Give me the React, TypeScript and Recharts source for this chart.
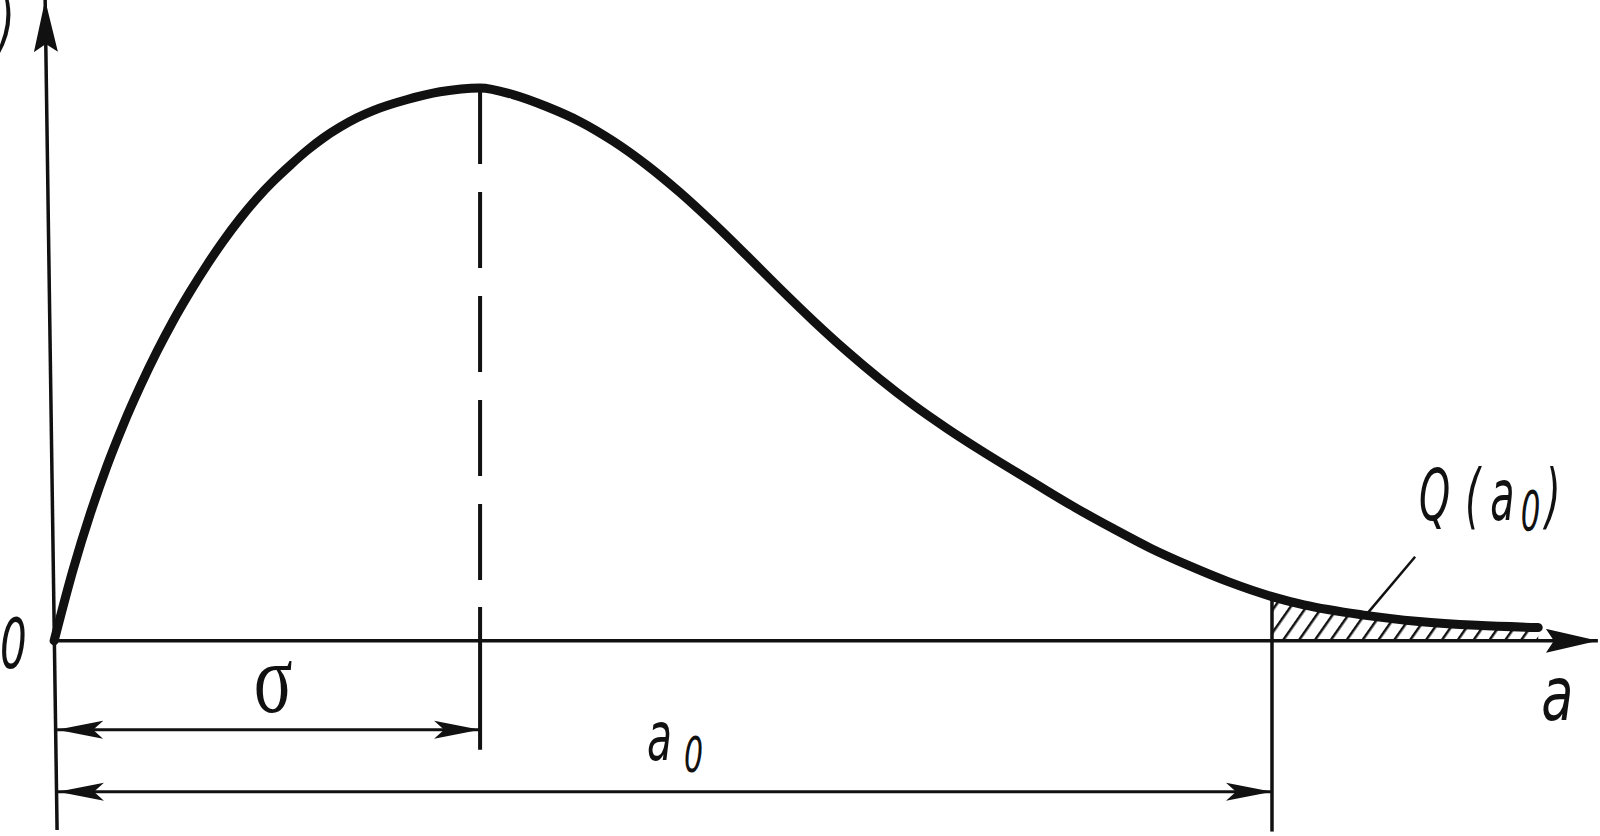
import { ComposedChart, Line, Area, XAxis, YAxis, ReferenceLine, ReferenceDot } from 'recharts';

// abscissa in units of sigma, density normalised to the peak
const aValues = [
  0, 0.045, 0.085, 0.124, 0.162, 0.202, 0.242, 0.279, 0.319, 0.359,
  0.397, 0.437, 0.477, 0.514, 0.554, 0.594, 0.631, 0.671, 0.711, 0.749,
  0.829, 0.906, 1.0, 1.077, 1.157, 1.235, 1.312, 1.392, 1.469,
  1.547, 1.627, 1.704, 1.782, 1.862, 1.939, 2.016, 2.096, 2.174, 2.308,
  2.397, 2.486, 2.575, 2.667, 2.756, 2.859, 2.934, 3.07, 3.204, 3.34, 3.484,
];
const densityValues = [
  0, 0.13, 0.23, 0.316, 0.39, 0.46, 0.524, 0.578, 0.631, 0.68,
  0.723, 0.764, 0.801, 0.831, 0.86, 0.887, 0.909, 0.929, 0.946, 0.959,
  0.979, 0.993, 1.0, 0.988, 0.966, 0.939, 0.904, 0.86, 0.811,
  0.756, 0.696, 0.637, 0.579, 0.523, 0.473, 0.427, 0.384, 0.345, 0.282,
  0.241, 0.203, 0.167, 0.135, 0.107, 0.08, 0.065, 0.047, 0.035, 0.028, 0.024,
];

const SIGMA = 1;
const A0 = 2.859;
const A0_DENSITY = 0.08;

const data = aValues.map((a, i) => ({
  a,
  w: densityValues[i],
  tail: a >= A0 ? densityValues[i] : null,
}));

const INK = '#111';
const FONT = '"DejaVu Sans", sans-serif';

// line with optional arrowheads
const arrowShape = (start: string | null, end: string | null, width: number, dash?: string) => (p: any) => (
  <line
    x1={p.x1}
    y1={p.y1}
    x2={p.x2}
    y2={p.y2}
    stroke={INK}
    strokeWidth={width}
    strokeDasharray={dash}
    markerStart={start ? `url(#${start})` : undefined}
    markerEnd={end ? `url(#${end})` : undefined}
  />
);

type Glyph = { t: string; dx?: number; dy?: number; size?: number };

const textShape =
  (glyphs: Glyph[], size: number, sx: number, opts: { anchor?: string; family?: string; italic?: boolean } = {}) =>
  (p: any) => (
    <text
      transform={`translate(${p.cx},${p.cy}) scale(${sx},1)`}
      fontSize={size}
      fontFamily={opts.family ?? FONT}
      fontStyle={opts.italic === false ? 'normal' : 'italic'}
      textAnchor={opts.anchor ?? 'start'}
      fill={INK}
    >
      {glyphs.map((g, i) => (
        <tspan key={i} dx={g.dx} dy={g.dy} fontSize={g.size}>
          {g.t}
        </tspan>
      ))}
    </text>
  );

export default function App() {
  return (
    <div style={{ position: 'absolute', left: 0, top: 0, width: 1600, height: 836, background: '#fff' }}>
      <ComposedChart width={1600} height={836} data={data} margin={{ top: 0, right: 0, bottom: 0, left: 0 }}>
        <defs>
          <marker id="head" viewBox="0 0 46 20" refX="46" refY="10" markerWidth="46" markerHeight="20"
            markerUnits="userSpaceOnUse" orient="auto-start-reverse">
            <path d="M0,1 L46,10 L0,19 L10,10 Z" fill={INK} />
          </marker>
          <marker id="bigHead" viewBox="0 0 52 24" refX="52" refY="12" markerWidth="52" markerHeight="24"
            markerUnits="userSpaceOnUse" orient="auto-start-reverse">
            <path d="M0,0 L52,12 L0,24 L8,12 Z" fill={INK} />
          </marker>
          <pattern id="hatch" patternUnits="userSpaceOnUse" width="13" height="13" patternTransform="rotate(35)">
            <line x1="0" y1="0" x2="0" y2="13" stroke={INK} strokeWidth="5" />
          </pattern>
        </defs>

        <XAxis type="number" dataKey="a" domain={[-0.127, 3.629]} allowDataOverflow hide />
        <YAxis type="number" domain={[-0.353, 1.159]} allowDataOverflow hide />

        <Area dataKey="tail" type="monotone" stroke="none" fill="url(#hatch)" fillOpacity={1}
          baseValue={0} dot={false} activeDot={false} isAnimationActive={false} />
        <Line dataKey="w" type="monotone" stroke={INK} strokeWidth={9} strokeLinecap="round"
          dot={false} activeDot={false} isAnimationActive={false} />

        {/* axes */}
        <ReferenceLine ifOverflow="visible" segment={[{ x: 0, y: 0 }, { x: 3.624, y: 0 }]}
          shape={arrowShape(null, 'bigHead', 3.5)} />
        <ReferenceLine ifOverflow="visible" segment={[{ x: 0.007, y: -0.342 }, { x: -0.021, y: 1.159 }]}
          shape={arrowShape(null, 'bigHead', 3.5)} />

        {/* sigma and a0 markers */}
        <ReferenceLine ifOverflow="visible" segment={[{ x: SIGMA, y: 1 }, { x: SIGMA, y: 0.061 }]}
          shape={arrowShape(null, null, 4, '76 28')} />
        <ReferenceLine ifOverflow="visible" segment={[{ x: SIGMA, y: 0.061 }, { x: SIGMA, y: -0.197 }]}
          shape={arrowShape(null, null, 4)} />
        <ReferenceLine ifOverflow="visible" segment={[{ x: A0, y: A0_DENSITY }, { x: A0, y: -0.345 }]}
          shape={arrowShape(null, null, 3.5)} />

        {/* dimension arrows */}
        <ReferenceLine ifOverflow="visible" segment={[{ x: 0.007, y: -0.161 }, { x: SIGMA, y: -0.161 }]}
          shape={arrowShape('head', 'head', 3)} />
        <ReferenceLine ifOverflow="visible" segment={[{ x: 0.009, y: -0.273 }, { x: A0, y: -0.273 }]}
          shape={arrowShape('head', 'head', 3)} />

        {/* leader for Q(a0) */}
        <ReferenceLine ifOverflow="visible" segment={[{ x: 3.195, y: 0.152 }, { x: 3.08, y: 0.047 }]}
          shape={arrowShape(null, null, 2.5)} />

        {/* labels */}
        <ReferenceDot ifOverflow="visible" x={0.514} y={-0.128}
          shape={textShape([{ t: 'σ' }], 100, 0.72, { anchor: 'middle', family: '"Liberation Serif", serif', italic: false })} />
        <ReferenceDot ifOverflow="visible" x={1.392} y={-0.215}
          shape={textShape([{ t: 'a' }, { t: '0', dx: 20, dy: 12, size: 50 }], 68, 0.6)} />
        <ReferenceDot ifOverflow="visible" x={3.204} y={0.219}
          shape={textShape([
            { t: 'Q' },
            { t: '(', dx: 27 },
            { t: 'a', dx: 18 },
            { t: '0', dx: 11, dy: 10, size: 56 },
            { t: ')', dx: 9, dy: -10, size: 72 },
          ], 72, 0.55)} />
        <ReferenceDot ifOverflow="visible" x={3.491} y={-0.143}
          shape={textShape([{ t: 'a' }], 75, 0.7)} />
        <ReferenceDot ifOverflow="visible" x={-0.127} y={-0.049}
          shape={textShape([{ t: '0' }], 70, 0.6)} />
        <ReferenceDot ifOverflow="visible" x={-0.092} y={1.076}
          shape={textShape([{ t: ')' }], 72, 0.6, { anchor: 'end' })} />
      </ComposedChart>
    </div>
  );
}
